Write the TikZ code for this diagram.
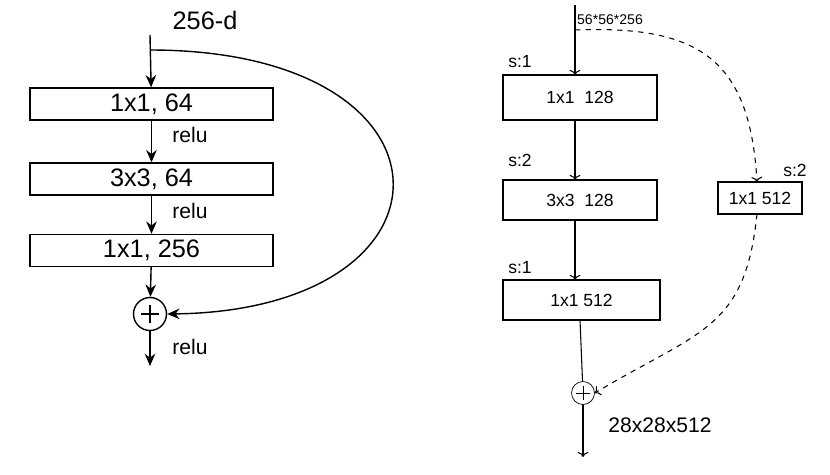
\documentclass[tikz,border=0pt]{standalone}
\usepackage{fontspec}
\setmainfont{Liberation Sans}
\usetikzlibrary{arrows.meta}
\tikzset{
  blk/.style={draw,thick,minimum height=0.64cm,inner sep=0pt,font=\Large},
  rblk/.style={draw,thick,inner sep=0pt,font=\normalsize},
  rlab/.style={font=\normalsize},
  arr/.style={-{Stealth[length=7pt,width=6pt]},thick},
}
\begin{document}
\begin{tikzpicture}[x=0.02cm,y=-0.02cm]
\useasboundingbox (0,0) rectangle (830,474);
% left: bottleneck block
\coordinate (in) at (150,35);
\coordinate (fork) at (150,50);
\node[blk,minimum width=4.86cm] (b1) at (151.5,104) {1x1, 64};
\node[blk,minimum width=4.86cm] (b2) at (151.5,179) {3x3, 64};
\node[blk,minimum width=4.86cm] (b3) at (151.5,250.5) {1x1, 256};
\node[draw,thick,circle,minimum size=0.66cm,inner sep=0pt] (add) at (150,314) {};
\draw[thick] (150,305) -- (150,323) (141,314) -- (159,314);
\coordinate (out) at (150,366);
\node[font=\Large] at (205,20) {256-d};
\node[font=\large] at (190,135) {relu};
\node[font=\large] at (190,211) {relu};
\node[font=\large] at (190,347) {relu};
\draw[arr] (in) -- (b1);
\draw[arr] (b1) -- (b2);
\draw[arr] (b2) -- (b3);
\draw[arr] (b3) -- (add);
\draw[arr] (add) -- (out);
\draw[arr] (fork) .. controls (470,50) and (470,310) .. (add.east);
% right: downsampling block
\coordinate (rin) at (575,5);
\coordinate (rfork) at (575,30);
\node[rblk,minimum width=3.08cm,minimum height=0.9cm] (r1) at (580,97.5) {1x1\ \ 128};
\node[rblk,minimum width=3.08cm,minimum height=0.8cm] (r2) at (580,200) {3x3\ \ 128};
\node[rblk,minimum width=3.14cm,minimum height=0.8cm] (r3) at (581.5,300) {1x1 512};
\node[rblk,minimum width=1.68cm,minimum height=0.64cm] (sc) at (760,198) {1x1 512};
\node[draw,circle,minimum size=0.46cm,inner sep=0pt] (radd) at (583,393) {};
\draw (583,386) -- (583,400) (576,393) -- (590,393);
\coordinate (rout) at (583,457);
\node[font=\footnotesize] at (610,20) {56*56*256};
\node[rlab] at (520,62) {s:1};
\node[rlab] at (520,160) {s:2};
\node[rlab] at (520,268) {s:1};
\node[rlab] at (795,170) {s:2};
\node[font=\large] at (660,425) {28x28x512};
\draw[->,semithick] (rin) -- (575,75);
\draw[->,semithick] (575,120) -- (575,180);
\draw[->,semithick] (575,220) -- (575,280);
\draw[semithick] (580,320) -- (radd);
\draw[->,semithick] (radd) -- (rout);
\draw[dashed,->,semithick] (rfork) .. controls (700,25) and (750,60) .. (757,182);
\draw[dashed,->,semithick] (757,214) .. controls (745,330) and (700,330) .. (radd.east);
\end{tikzpicture}
\end{document}
